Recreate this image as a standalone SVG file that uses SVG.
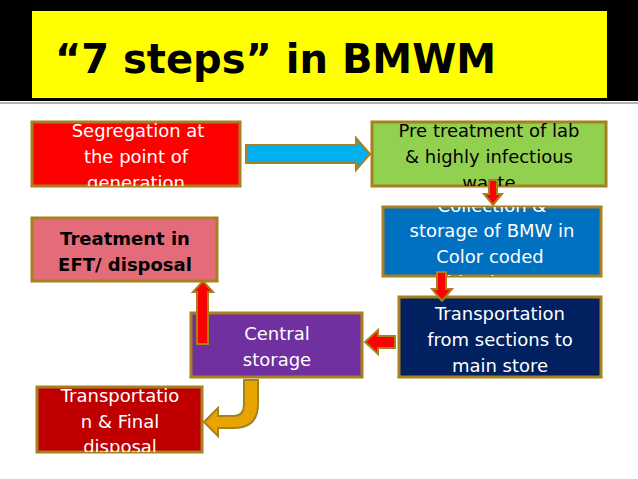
<svg xmlns="http://www.w3.org/2000/svg" width="638" height="479" viewBox="0 0 638 479">
<style>
.box{stroke:#a8801e;stroke-width:3}
.t{font-family:"DejaVu Sans",sans-serif;font-size:18px;text-anchor:middle}
.w{fill:#fff}.k{fill:#000}
.arr{stroke:#a8801e;stroke-width:2}
</style>
<defs>
<clipPath id="c1"><rect x="32" y="122" width="208" height="64"/></clipPath>
<clipPath id="c2"><rect x="372" y="122" width="234" height="64"/></clipPath>
<clipPath id="c3"><rect x="383" y="207" width="218" height="69"/></clipPath>
<clipPath id="c7"><rect x="37" y="387" width="165" height="65"/></clipPath>
</defs>
<rect width="638" height="101" fill="#000"/>
<rect x="32" y="11" width="575" height="87" fill="#ffff00"/>
<line x1="0" y1="103" x2="638" y2="103" stroke="#999" stroke-width="1.5"/>
<text x="55" y="73" font-family="DejaVu Sans,sans-serif" font-weight="bold" font-size="40">“7 steps” in BMWM</text>
<g id="n1"><rect class="box" x="32" y="122" width="208" height="64" fill="#ff0000"/>
<g clip-path="url(#c1)" class="t w"><text x="138" y="137">Segregation at</text><text x="136" y="163">the point of</text><text x="136" y="189">generation</text></g></g>
<g id="n2"><rect class="box" x="372" y="122" width="234" height="64" fill="#92d050"/>
<g clip-path="url(#c2)" class="t k"><text x="489" y="137">Pre treatment of lab</text><text x="489" y="163">&amp; highly infectious</text><text x="489" y="189">waste</text></g></g>
<g id="n3"><rect class="box" x="383" y="207" width="218" height="69" fill="#0070c0"/>
<g clip-path="url(#c3)" class="t w"><text x="492" y="212">Collection &amp;</text><text x="492" y="237">storage of BMW in</text><text x="490" y="263">Color coded</text><text x="490" y="289">bins/bags</text></g></g>
<g id="n4"><rect class="box" x="32" y="218" width="185" height="63" fill="#e46c7a"/>
<g class="t k" font-weight="bold"><text x="125" y="245">Treatment in</text><text x="125" y="271">EFT/ disposal</text></g></g>
<g id="n5"><rect class="box" x="399" y="297" width="202" height="80" fill="#002060"/>
<g class="t w"><text x="500" y="320">Transportation</text><text x="500" y="346">from sections to</text><text x="500" y="372">main store</text></g></g>
<g id="n6"><rect class="box" x="191" y="313" width="171" height="64" fill="#7030a0"/>
<g class="t w"><text x="277" y="340">Central</text><text x="277" y="366">storage</text></g></g>
<g id="n7"><rect class="box" x="37" y="387" width="165" height="65" fill="#c00000"/>
<g clip-path="url(#c7)" class="t w"><text x="120" y="402">Transportatio</text><text x="120" y="428">n &amp; Final</text><text x="120" y="453">disposal</text></g></g>
<g id="connectors">
<polygon class="arr" fill="#00b0f0" points="246,145 356,145 356,138 370,154 356,170 356,163 246,163"/>
<polygon class="arr" fill="#ff0000" points="489,180 497,180 497,194 502,194 493,205 484,194 489,194"/>
<polygon class="arr" fill="#ff0000" points="437,272 446,272 446,289 452,289 442,301 432,289 437,289"/>
<polygon class="arr" fill="#ff0000" points="395,336 378,336 378,330 365,342 378,354 378,348 395,348"/>
<polygon class="arr" fill="#ff0000" points="197,344 208,344 208,292 213,292 203,281 193,292 197,292"/>
<path class="arr" fill="#e8a400" d="M244,380 L258,380 L258,404 Q258,428 234,428 L218,428 L218,436 L204,422 L218,408 L218,416 L234,416 Q244,416 244,404 Z"/>
</g>
</svg>
